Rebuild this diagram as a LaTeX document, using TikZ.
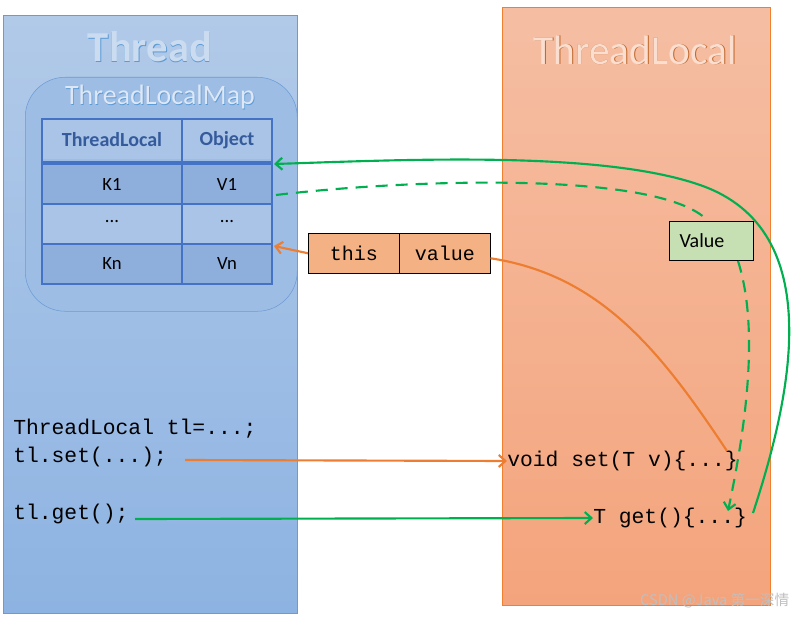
\documentclass[tikz,border=0pt]{standalone}
\usepackage{fontspec}
\setmainfont{Carlito}
\newfontfamily\codefont{Liberation Mono}
\newfontfamily\cjkfont{Noto Sans CJK SC}
\usetikzlibrary{arrows.meta,calc}
\definecolor{tblue}{HTML}{A9C4E6}
\definecolor{tblueb}{HTML}{8DB3E2}
\definecolor{tedge}{HTML}{6A9BD6}
\definecolor{tcell}{HTML}{4472C4}
\definecolor{rowd}{HTML}{8EAEDC}
\definecolor{rowl}{HTML}{A9C4E6}
\definecolor{ltop}{HTML}{F5BEA3}
\definecolor{lbot}{HTML}{F4A47C}
\definecolor{ledge}{HTML}{F08030}
\definecolor{org}{HTML}{ED7D31}
\definecolor{grn}{HTML}{00B050}
\definecolor{vgreen}{HTML}{C6E0B4}
\definecolor{boxorg}{HTML}{F4B183}
\definecolor{tline}{HTML}{5B9BD5}
\tikzset{
  x=0.75pt,y=-0.75pt,
  cell/.style={draw=tcell,line width=0.8pt,minimum height=30pt,inner sep=0pt},
  code/.style={font=\codefont\fontsize{16}{18}\selectfont,inner sep=0pt,anchor=west},
  oarr/.style={draw=org,line width=1.6pt,-{Straight Barb[length=5pt,width=9pt]}},
  garr/.style={draw=grn,line width=1.6pt,-{Straight Barb[length=5pt,width=9pt]}},
}
\begin{document}
\begin{tikzpicture}
\useasboundingbox[fill=white] (0,0) rectangle (804,617);
% Thread
\node[draw=tedge,top color=tblue!90,bottom color=tblueb,minimum width=294*0.75pt,minimum height=598*0.75pt,anchor=north west,inner sep=0pt] (thread) at (3,15) {};
\node[text=tline,font=\fontsize{32}{34}\selectfont\bfseries] (ttitleS) at (150.8,47.8) {Thread};
\node[text=tblue!60!white,font=\fontsize{32}{34}\selectfont\bfseries] (ttitle) at (150,47) {Thread};
\node[draw=tedge,fill=tblueb!40!tblue,rounded corners=30pt,minimum width=272*0.75pt,minimum height=234*0.75pt,anchor=north west,inner sep=0pt] (map) at (25,77) {};
\node[text=tline,font=\fontsize{21}{23}\selectfont] (mtitleS) at (160.7,97.7) {ThreadLocalMap};
\node[text=tblue!40!white,font=\fontsize{21}{23}\selectfont] (mtitle) at (160,97) {ThreadLocalMap};
% table
\foreach \y/\c in {119/rowl,163/rowd,204/rowl,244/rowd}{
  \fill[\c] (42,\y) rectangle (272,\y+40);
}
\draw[tcell,line width=0.8pt] (42,119) rectangle (272,284);
\foreach \y in {204,244} \draw[tcell,line width=0.8pt] (42,\y) -- (272,\y);
\draw[tcell,line width=2.5pt] (42,163) -- (272,163);
\draw[tcell,line width=0.8pt] (182,119) -- (182,284);
\node[text=tcell!80!black,font=\fontsize{15}{17}\selectfont\bfseries] (h1) at (112,140) {ThreadLocal};
\node[text=tcell!80!black,font=\fontsize{15}{17}\selectfont\bfseries] (h2) at (227,140) {Object};
\node[font=\fontsize{14}{16}\selectfont] (k1) at (112,184) {K1};
\node[font=\fontsize{14}{16}\selectfont] (v1) at (227,184) {V1};
\node[font=\fontsize{14}{16}\selectfont] (kd) at (112,222) {...};
\node[font=\fontsize{14}{16}\selectfont] (vd) at (227,222) {...};
\node[font=\fontsize{14}{16}\selectfont] (kn) at (112,264) {Kn};
\node[font=\fontsize{14}{16}\selectfont] (vn) at (227,264) {Vn};
\coordinate (t1) at (274,164);
\coordinate (t1b) at (276,195);
\coordinate (tn) at (274,246);
% ThreadLocal
\node[draw=ledge,top color=ltop,bottom color=lbot,minimum width=268*0.75pt,minimum height=598*0.75pt,anchor=north west,inner sep=0pt] (tl) at (502,7) {};
\node[text=org!80!black,font=\fontsize{31}{33}\selectfont] (ltitleS) at (635.8,50.8) {ThreadLocal};
\node[text=ltop!50!white,font=\fontsize{31}{33}\selectfont] (ltitle) at (635,50) {ThreadLocal};
% this/value
\node[draw=black,fill=boxorg,minimum width=91*0.75pt,minimum height=40*0.75pt,anchor=north west,inner sep=0pt,font=\codefont\fontsize{15}{17}\selectfont] (this) at (308,233) {this};
\node[draw=black,fill=boxorg,minimum width=91*0.75pt,minimum height=40*0.75pt,anchor=north west,inner sep=0pt,font=\codefont\fontsize{15}{17}\selectfont] (val) at (399,233) {value};
\node[draw=black,fill=vgreen,minimum width=84*0.75pt,minimum height=39*0.75pt,anchor=north west,inner sep=0pt,font=\fontsize{15}{17}\selectfont] (Value) at (669,221) {\hspace*{-14pt}Value};
% code
\node[code] (c1) at (13,429) {ThreadLocal tl=...;};
\node[code] (c2) at (13,457) {tl.set(...);};
\node[code] (c3) at (13,514) {tl.get();};
\node[code] (vset) at (507,461) {void set(T v)\{...\}};
\node[code] (tget) at (593,518) {T get()\{...\}};
% arrows
\draw[oarr] (185,460) -- (vset.west);
\draw[garr] (135,519) -- (tget.west);
\draw[oarr] (this.west) -- (tn);
\draw[draw=org,line width=1.6pt] (val.east) ++(0,5) .. controls (600,275) and (660,350) .. (727,451);
\draw[garr] (753,513) .. controls (790,400) and (830,230) .. (700,185) .. controls (600,150) and (400,160) .. (t1);
\draw[draw=grn,line width=1.6pt,dash pattern=on 9pt off 6pt] (t1b) .. controls (400,180) and (650,170) .. (705,218);
\draw[draw=grn,line width=1.6pt,dash pattern=on 9pt off 6pt,-{Straight Barb[length=5pt,width=9pt]}] (738,261) .. controls (760,330) and (745,430) .. (728,511);
\node[text=gray!50,font=\cjkfont\fontsize{11}{12}\selectfont,anchor=east] (wm) at (794,601) {CSDN @Java 第一深情};
\end{tikzpicture}
\end{document}
